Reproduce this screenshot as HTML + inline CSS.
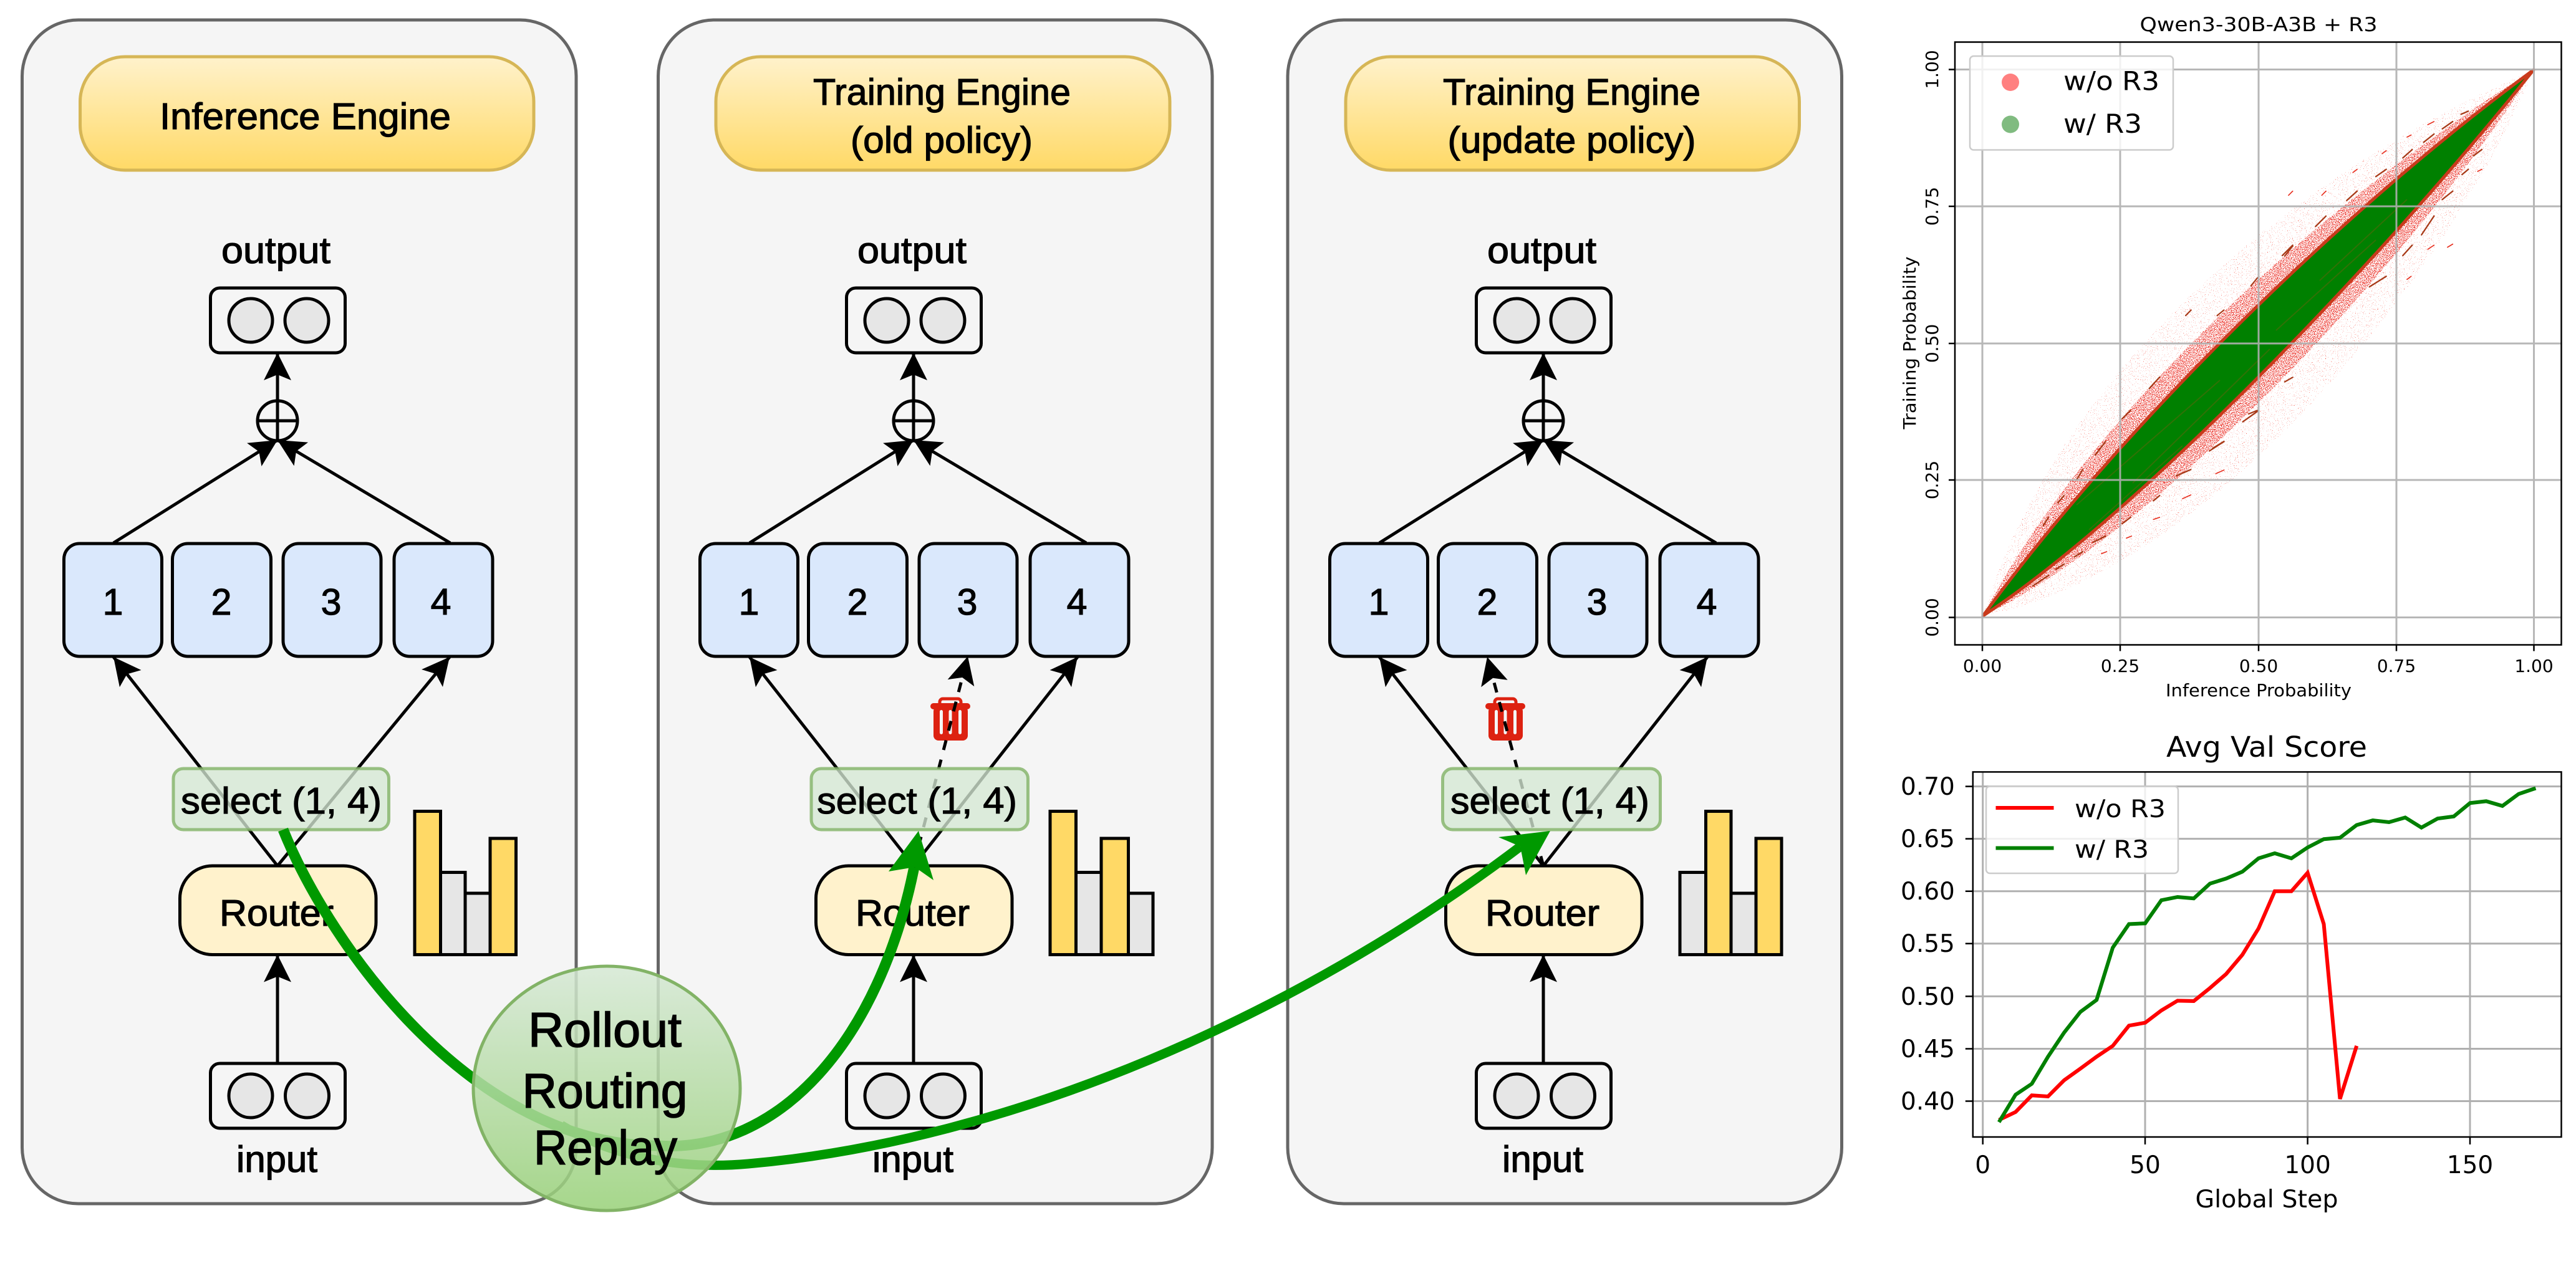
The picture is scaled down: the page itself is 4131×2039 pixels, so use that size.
<!DOCTYPE html>
<html>
<head>
<meta charset="utf-8">
<style>
html,body{margin:0;padding:0;background:#fff;width:4131px;height:2039px;overflow:hidden}
svg{display:block}
.c{font-family:"Liberation Sans",sans-serif;font-size:59px;fill:#000;stroke:#000;stroke-width:1.2px}
.r{font-family:"Liberation Sans",sans-serif;font-size:78px;fill:#000;stroke:#000;stroke-width:1.6px}
.d{font-family:"DejaVu Sans",sans-serif;fill:#000}
.t1{font-size:28px}
.t2{font-size:39px}
.k{stroke:#000;stroke-width:5;fill:none}
.a{stroke:#000;stroke-width:5;fill:none;marker-end:url(#ah)}
.g{stroke:#b0b0b0;stroke-width:3;fill:none}
.tick{stroke:#000;stroke-width:2.5;fill:none}
</style>
</head>
<body>
<svg xmlns="http://www.w3.org/2000/svg" width="4131" height="2039" viewBox="0 0 4131 2039">
<defs>
<linearGradient id="pill" x1="0" y1="0" x2="0" y2="1"><stop offset="0" stop-color="#fff2cc"/><stop offset="1" stop-color="#ffd966"/></linearGradient>
<linearGradient id="ball" x1="0" y1="0" x2="0" y2="1"><stop offset="0" stop-color="#d5e8d4"/><stop offset="1" stop-color="#97d077"/></linearGradient>
<marker id="ah" markerUnits="userSpaceOnUse" markerWidth="50" markerHeight="50" refX="44" refY="22" orient="auto" overflow="visible"><path d="M44 22L0 44L9 22L0 0Z" fill="#000"/></marker>
<filter id="sp1" x="3135" y="67" width="973" height="968" filterUnits="userSpaceOnUse"><feTurbulence type="fractalNoise" baseFrequency="0.85" numOctaves="2" seed="3" result="n"/><feColorMatrix in="n" type="matrix" values="0 0 0 0 0 0 0 0 0 0 0 0 0 0 0 0 0 0 30 -21.6" result="th"/><feComposite in="SourceGraphic" in2="th" operator="in"/></filter>
<filter id="sp2" x="3135" y="67" width="973" height="968" filterUnits="userSpaceOnUse"><feTurbulence type="fractalNoise" baseFrequency="0.8" numOctaves="2" seed="8" result="n"/><feColorMatrix in="n" type="matrix" values="0 0 0 0 0 0 0 0 0 0 0 0 0 0 0 0 0 0 30 -16.2" result="th"/><feComposite in="SourceGraphic" in2="th" operator="in"/></filter>

<g id="base">
<rect x="337.5" y="462" width="216" height="104" rx="15" class="k"/>
<circle cx="402" cy="514" r="35" fill="#e6e6e6" stroke="#000" stroke-width="5"/>
<circle cx="492" cy="514" r="35" fill="#e6e6e6" stroke="#000" stroke-width="5"/>
<path d="M445 643V566" class="a"/>
<circle cx="445" cy="675" r="32" class="k"/>
<path d="M445 643V707M413 675H477" class="k"/>
<path d="M182 871L445 706" class="a"/>
<path d="M722 871L445 706" class="a"/>
<g fill="#dae8fc" stroke="#000" stroke-width="5">
<rect x="102.5" y="872" width="157" height="181" rx="25"/>
<rect x="276.5" y="872" width="158" height="181" rx="25"/>
<rect x="454" y="872" width="157" height="181" rx="25"/>
<rect x="632" y="872" width="158" height="181" rx="25"/>
</g>
<rect x="288.5" y="1389" width="314.5" height="142.5" rx="52" fill="#fff2cc" stroke="#000" stroke-width="5"/>
<path d="M445 1706V1531.5" class="a"/>
<rect x="337.5" y="1706" width="216" height="104" rx="15" class="k"/>
<circle cx="402" cy="1758" r="35" fill="#e6e6e6" stroke="#000" stroke-width="5"/>
<circle cx="492.5" cy="1758" r="35" fill="#e6e6e6" stroke="#000" stroke-width="5"/>
</g>

<g id="trash">
<rect x="-17" y="-32" width="34" height="16" rx="5" fill="none" stroke="#dd2211" stroke-width="5"/>
<rect x="-27" y="-20" width="55" height="55" rx="8" fill="#dd2211"/>
<rect x="-32" y="-25" width="64" height="10" rx="5" fill="#dd2211"/>
<g fill="#f5f5f5">
<rect x="-17" y="-14" width="5" height="39" rx="2.5"/>
<rect x="-2.5" y="-14" width="5" height="39" rx="2.5"/>
<rect x="13" y="-14" width="5" height="39" rx="2.5"/>
</g>
</g>

<g id="grid1" class="g">
<path d="M3179 67.5V1034.5M3400 67.5V1034.5M3622 67.5V1034.5M3843 67.5V1034.5M4063.5 67.5V1034.5"/>
<path d="M3135 111.5H4107.5M3135 331H4107.5M3135 551H4107.5M3135 770H4107.5M3135 990.5H4107.5"/>
</g>
</defs>

<rect width="4131" height="2039" fill="#fff"/>

<!-- Panel 1 -->
<rect x="35.5" y="32" width="888.5" height="1899" rx="90" fill="#f5f5f5" stroke="#666" stroke-width="5"/>
<rect x="128.5" y="91" width="727.5" height="182" rx="72" fill="url(#pill)" stroke="#d6b656" stroke-width="5"/>
<text class="c" x="256" y="207" textLength="467" lengthAdjust="spacingAndGlyphs">Inference Engine</text>
<text class="c" x="355" y="422" textLength="175" lengthAdjust="spacingAndGlyphs">output</text>
<use href="#base"/>
<text class="c" x="181" y="986" text-anchor="middle">1</text>
<text class="c" x="355" y="986" text-anchor="middle">2</text>
<text class="c" x="531" y="986" text-anchor="middle">3</text>
<text class="c" x="707" y="986" text-anchor="middle">4</text>
<text class="c" x="352" y="1485" textLength="183" lengthAdjust="spacingAndGlyphs">Router</text>
<text class="c" x="379" y="1880" textLength="130" lengthAdjust="spacingAndGlyphs">input</text>
<path d="M445 1389L182 1054" class="a"/>
<path d="M445 1389L721 1054" class="a"/>
<g stroke="#000" stroke-width="5">
<rect x="665" y="1301.5" width="41.5" height="230" fill="#ffd966"/>
<rect x="706.5" y="1399.5" width="39.5" height="132" fill="#e6e6e6"/>
<rect x="746" y="1433" width="40" height="98.5" fill="#e6e6e6"/>
<rect x="786" y="1345" width="41.5" height="186.5" fill="#ffd966"/>
</g>
<rect x="278" y="1233" width="345.5" height="98" rx="16" fill="#d5e8d4" fill-opacity=".78" stroke="#82b366" stroke-opacity=".8" stroke-width="5"/>
<text class="c" x="290" y="1305" textLength="322" lengthAdjust="spacingAndGlyphs">select (1, 4)</text>

<!-- Panel 2 -->
<rect x="1055.5" y="32" width="888.5" height="1899" rx="90" fill="#f5f5f5" stroke="#666" stroke-width="5"/>
<rect x="1148" y="91" width="728" height="182" rx="72" fill="url(#pill)" stroke="#d6b656" stroke-width="5"/>
<text class="c" x="1304" y="168" textLength="413" lengthAdjust="spacingAndGlyphs">Training Engine</text>
<text class="c" x="1364" y="245" textLength="292" lengthAdjust="spacingAndGlyphs">(old policy)</text>
<g transform="translate(1020,0)">
<text class="c" x="355" y="422" textLength="175" lengthAdjust="spacingAndGlyphs">output</text>
<use href="#base"/>
<text class="c" x="181" y="986" text-anchor="middle">1</text>
<text class="c" x="355" y="986" text-anchor="middle">2</text>
<text class="c" x="531" y="986" text-anchor="middle">3</text>
<text class="c" x="707" y="986" text-anchor="middle">4</text>
<text class="c" x="352" y="1485" textLength="183" lengthAdjust="spacingAndGlyphs">Router</text>
<text class="c" x="379" y="1880" textLength="130" lengthAdjust="spacingAndGlyphs">input</text>
</g>
<path d="M1465 1389L1202 1054" class="a"/>
<path d="M1465 1389L1728 1054" class="a"/>
<use href="#trash" x="1524" y="1153"/>
<path d="M1465 1389L1552 1053" class="a" stroke-dasharray="16 16"/>
<g stroke="#000" stroke-width="5">
<rect x="1684" y="1301.5" width="41.5" height="230" fill="#ffd966"/>
<rect x="1725.5" y="1399.5" width="40.5" height="132" fill="#e6e6e6"/>
<rect x="1766" y="1345" width="43.5" height="186.5" fill="#ffd966"/>
<rect x="1809.5" y="1433" width="39.5" height="98.5" fill="#e6e6e6"/>
</g>
<rect x="1301" y="1233" width="347.5" height="98" rx="16" fill="#d5e8d4" fill-opacity=".78" stroke="#82b366" stroke-opacity=".8" stroke-width="5"/>
<text class="c" x="1310" y="1305" textLength="321" lengthAdjust="spacingAndGlyphs">select (1, 4)</text>

<!-- Panel 3 -->
<rect x="2065" y="32" width="888.5" height="1899" rx="90" fill="#f5f5f5" stroke="#666" stroke-width="5"/>
<rect x="2158" y="91" width="727.5" height="182" rx="72" fill="url(#pill)" stroke="#d6b656" stroke-width="5"/>
<text class="c" x="2314" y="168" textLength="413" lengthAdjust="spacingAndGlyphs">Training Engine</text>
<text class="c" x="2321.5" y="245" textLength="398" lengthAdjust="spacingAndGlyphs">(update policy)</text>
<g transform="translate(2030,0)">
<text class="c" x="355" y="422" textLength="175" lengthAdjust="spacingAndGlyphs">output</text>
<use href="#base"/>
<text class="c" x="181" y="986" text-anchor="middle">1</text>
<text class="c" x="355" y="986" text-anchor="middle">2</text>
<text class="c" x="531" y="986" text-anchor="middle">3</text>
<text class="c" x="707" y="986" text-anchor="middle">4</text>
<text class="c" x="352" y="1485" textLength="183" lengthAdjust="spacingAndGlyphs">Router</text>
<text class="c" x="379" y="1880" textLength="130" lengthAdjust="spacingAndGlyphs">input</text>
</g>
<path d="M2475 1389L2212 1054" class="a"/>
<path d="M2475 1389L2738 1054" class="a"/>
<use href="#trash" x="2414" y="1153"/>
<path d="M2475 1389L2385 1054" class="a" stroke-dasharray="16 16"/>
<g stroke="#000" stroke-width="5">
<rect x="2694" y="1399.5" width="41.5" height="132" fill="#e6e6e6"/>
<rect x="2735.5" y="1301.5" width="40.5" height="230" fill="#ffd966"/>
<rect x="2776" y="1433" width="40" height="98.5" fill="#e6e6e6"/>
<rect x="2816" y="1345" width="41" height="186.5" fill="#ffd966"/>
</g>
<rect x="2313.5" y="1233" width="349" height="98" rx="16" fill="#d5e8d4" fill-opacity=".78" stroke="#82b366" stroke-opacity=".8" stroke-width="5"/>
<text class="c" x="2326" y="1305" textLength="319" lengthAdjust="spacingAndGlyphs">select (1, 4)</text>

<!-- Replay curves -->
<path d="M454 1331C530 1520 760 1838 1055 1838C1250 1850 1410 1670 1466 1391" fill="none" stroke="#009900" stroke-width="17"/>
<path d="M900 1805C990 1860 1100 1876 1200 1867C1620 1830 2080 1630 2438 1358" fill="none" stroke="#009900" stroke-width="15"/>
<path d="M1473 1333L1425 1398L1467 1391L1497 1412Z" fill="#009900"/>
<path d="M2486 1333L2403 1343L2438 1358L2447 1404Z" fill="#009900"/>

<!-- Ball -->
<ellipse cx="973" cy="1746" rx="214" ry="196" fill="url(#ball)" fill-opacity=".85" stroke="#82b366" stroke-width="5"/>
<text class="r" x="847" y="1679" textLength="246" lengthAdjust="spacingAndGlyphs">Rollout</text>
<text class="r" x="837.5" y="1777" textLength="265" lengthAdjust="spacingAndGlyphs">Routing</text>
<text class="r" x="856" y="1868" textLength="230" lengthAdjust="spacingAndGlyphs">Replay</text>

<!-- Scatter chart -->
<text class="d" x="3622" y="50" text-anchor="middle" font-size="31" textLength="381" lengthAdjust="spacingAndGlyphs">Qwen3-30B-A3B + R3</text>
<!-- sparse outer speckle -->
<g filter="url(#sp1)"><path fill="#f02818" d="M3180 988C3290 620 3650 290 4063 112C3930 440 3540 920 3180 988Z"/></g>
<!-- dense fringe speckle -->
<g filter="url(#sp2)"><path fill="#e81808" d="M3180 988C3340 680 3700 340 4063 112C3860 430 3450 860 3180 988Z"/></g>
<!-- core -->
<path fill="#008000" stroke="#c93a1c" stroke-width="5" stroke-linejoin="round" d="M3180 988C3390 700 3740 350 4063 112C3800 440 3420 830 3180 988Z"/>
<!-- streaks inside core -->
<path fill="none" stroke="#7a5a10" stroke-width="2" opacity=".4" d="M3330 810L3560 610M3420 775L3640 560M3650 530L3810 385M3720 450L3860 320M3350 850L3500 715"/>
<!-- short dashes, lower-left crop -->
<g transform="translate(3170,600) scale(.3333)">
<path fill="none" stroke="#a83a18" stroke-width="7" stroke-linecap="round" d="M700 215L740 175M480 510L510 460M570 390L620 325M390 620L420 585M320 730L345 690M830 70L880 15M700 720L740 690M560 810L620 780M470 880L510 855M380 940L420 915M270 1020L345 970M850 610L880 585M960 490L1030 460M1120 370L1190 325M1280 230L1350 180"/>
<path fill="none" stroke="#e83020" stroke-width="5" stroke-linecap="round" d="M1150 480L1190 462M990 600L1030 582M850 700L880 690M720 790L745 780M600 865L625 855"/>
</g>
<!-- short dashes, upper-right crop -->
<g transform="translate(3620,100) scale(.3333)">
<path fill="none" stroke="#a83a18" stroke-width="7" stroke-linecap="round" d="M120 930L170 880M280 790L330 740M430 665L480 620M570 550L620 515M700 460L745 420M800 385L850 345M890 320L940 285M980 250L1015 235M540 1080L620 1030M700 930L745 880M790 830L850 740M890 660L940 620M985 540L1015 515M1040 450L1080 420"/>
<path fill="none" stroke="#e83020" stroke-width="5" stroke-linecap="round" d="M150 640L170 620M310 640L330 620M460 530L480 515M600 440L620 425M720 360L740 350M820 300L850 285M820 900L850 880M915 890L940 875M1060 525L1080 515M720 1045L740 1030"/>
</g>
<!-- dashes around the centre -->
<g transform="matrix(.7215 0 0 .7337 3000 0)">
<path fill="none" stroke="#a83a18" stroke-width="3" stroke-linecap="round" d="M845 625L860 607M920 560L938 538M770 690L785 678M700 690L712 678M840 905L860 897M920 835L938 825M760 980L785 965"/>
</g>
<use href="#grid1" opacity=".9"/>
<rect x="3135" y="67.5" width="972.5" height="967" fill="none" stroke="#000" stroke-width="2.5"/>
<path class="tick" d="M3179 1034.5v10M3400 1034.5v10M3622 1034.5v10M3843 1034.5v10M4063.5 1034.5v10M3135 111.5h-10M3135 331h-10M3135 551h-10M3135 770h-10M3135 990.5h-10"/>
<g class="d t1" text-anchor="middle">
<text x="3179" y="1078">0.00</text><text x="3400" y="1078">0.25</text><text x="3622" y="1078">0.50</text><text x="3843" y="1078">0.75</text><text x="4063.5" y="1078">1.00</text>
<text transform="rotate(-90 3108 111.5)" x="3108" y="111.5">1.00</text>
<text transform="rotate(-90 3108 331)" x="3108" y="331">0.75</text>
<text transform="rotate(-90 3108 551)" x="3108" y="551">0.50</text>
<text transform="rotate(-90 3108 770)" x="3108" y="770">0.25</text>
<text transform="rotate(-90 3108 990.5)" x="3108" y="990.5">0.00</text>
</g>
<text class="d" x="3622" y="1117" text-anchor="middle" font-size="28" textLength="298" lengthAdjust="spacingAndGlyphs">Inference Probability</text>
<text class="d" transform="rotate(-90 3072 550)" x="3072" y="550" text-anchor="middle" font-size="28" textLength="277" lengthAdjust="spacingAndGlyphs">Training Probability</text>
<rect x="3159" y="90" width="326" height="150.5" rx="6" fill="#fff" fill-opacity=".8" stroke="#ccc" stroke-width="2.5"/>
<circle cx="3224" cy="132" r="14" fill="#ff8080"/>
<circle cx="3224" cy="199.5" r="14" fill="#80bb80"/>
<text class="d" x="3309" y="144.5" font-size="42" textLength="154" lengthAdjust="spacingAndGlyphs">w/o R3</text>
<text class="d" x="3309" y="213" font-size="42" textLength="126" lengthAdjust="spacingAndGlyphs">w/ R3</text>

<!-- Line chart -->
<text class="d" x="3635" y="1214" text-anchor="middle" font-size="45" textLength="322" lengthAdjust="spacingAndGlyphs">Avg Val Score</text>
<g class="g">
<path d="M3179.7 1238.4V1824M3440 1238.4V1824M3700.6 1238.4V1824M3961 1238.4V1824"/>
<path d="M3163.8 1261.6H4107.5M3163.8 1345.6H4107.5M3163.8 1429.7H4107.5M3163.8 1513.8H4107.5M3163.8 1598.4H4107.5M3163.8 1682.5H4107.5M3163.8 1766.5H4107.5"/>
</g>
<g transform="matrix(.7215 0 0 .5797 3000 1130)">
<polyline fill="none" stroke="#ff0000" stroke-width="6" vector-effect="non-scaling-stroke" points="285,1150 322,1128 358,1082 394,1085 430,1040 466,1008 502,975 538,945 574,889 610,881 646,847 682,820 718,821 754,785 790,746 826,693 862,620 898,517 935,517 971,466 1007,608 1043,1092 1080,945"/>
<polyline fill="none" stroke="#008000" stroke-width="6" vector-effect="non-scaling-stroke" points="285,1156 322,1080 358,1050 394,975 430,908 466,851 502,818 538,673 574,608 610,606 646,542 682,533 718,537 754,496 790,482 826,463 862,426 898,412 935,426 971,396 1007,373 1043,369 1080,334 1116,321 1152,326 1188,313 1224,341 1260,316 1296,310 1332,273 1368,268 1404,281 1440,248 1478,232"/>
</g>
<rect x="3163.8" y="1238.4" width="943.7" height="585.6" fill="none" stroke="#000" stroke-width="2.5"/>
<path class="tick" d="M3179.7 1824v12M3440 1824v12M3700.6 1824v12M3961 1824v12M3163.8 1261.6h-12M3163.8 1345.6h-12M3163.8 1429.7h-12M3163.8 1513.8h-12M3163.8 1598.4h-12M3163.8 1682.5h-12M3163.8 1766.5h-12"/>
<g class="d t2">
<text x="3048" y="1275">0.70</text><text x="3048" y="1359">0.65</text><text x="3048" y="1443">0.60</text><text x="3048" y="1527">0.55</text><text x="3048" y="1612">0.50</text><text x="3048" y="1696">0.45</text><text x="3048" y="1780">0.40</text>
</g>
<g class="d t2" text-anchor="middle">
<text x="3179.7" y="1882">0</text><text x="3440" y="1882">50</text><text x="3700.6" y="1882">100</text><text x="3961" y="1882">150</text>
</g>
<text class="d" x="3635" y="1937" text-anchor="middle" font-size="39" textLength="229" lengthAdjust="spacingAndGlyphs">Global Step</text>
<rect x="3185" y="1261.5" width="308" height="139.5" rx="6" fill="#fff" fill-opacity=".8" stroke="#ccc" stroke-width="2.5"/>
<path d="M3200.5 1296H3293.5" stroke="#ff0000" stroke-width="6"/>
<path d="M3200.5 1360.5H3293.5" stroke="#008000" stroke-width="6"/>
<text class="d" x="3327" y="1311" font-size="39" textLength="146" lengthAdjust="spacingAndGlyphs">w/o R3</text>
<text class="d" x="3327" y="1376" font-size="39" textLength="119" lengthAdjust="spacingAndGlyphs">w/ R3</text>
</svg>
</body>
</html>
